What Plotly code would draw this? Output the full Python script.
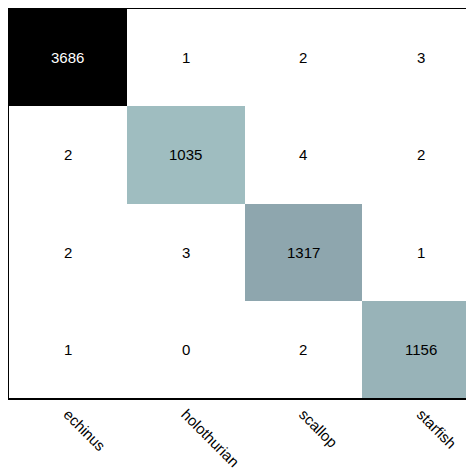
import plotly.graph_objects as go

classes = ["echinus", "holothurian", "scallop", "starfish"]
counts = [
    [3686, 1, 2, 3],
    [2, 1035, 4, 2],
    [2, 3, 1317, 1],
    [1, 0, 2, 1156],
]

# reversed "bone" colormap
bone_r = [
    [0.0, "rgb(255,255,255)"],
    [0.25, "rgb(166,199,199)"],
    [0.625, "rgb(82,82,112)"],
    [1.0, "rgb(0,0,0)"],
]

text_colors = [["white" if v > 2500 else "black" for v in row] for row in counts]

fig = go.Figure(go.Heatmap(
    z=counts, x=classes, y=classes,
    colorscale=bone_r, zmin=0, zmax=max(max(r) for r in counts),
    showscale=False, xgap=0, ygap=0,
))

for i, row in enumerate(counts):
    for j, v in enumerate(row):
        fig.add_annotation(x=classes[j], y=classes[i], text=str(v), showarrow=False,
                           font=dict(size=15, color=text_colors[i][j], family="Liberation Sans"))

fig.update_yaxes(autorange="reversed", showticklabels=False, showline=True, linecolor="black",
                 linewidth=1.5, mirror=True, ticks="", showgrid=False, zeroline=False)
fig.update_xaxes(tickangle=45, showline=True, linecolor="black", linewidth=1.5, mirror=True,
                 ticks="", showgrid=False, zeroline=False,
                 tickfont=dict(size=15, family="Liberation Sans", color="black"))
fig.update_layout(width=474, height=474,
                  margin=dict(l=1, r=2, t=1, b=84, pad=0, autoexpand=False),
                  plot_bgcolor="white", paper_bgcolor="white")

fig.write_html("out.html")
